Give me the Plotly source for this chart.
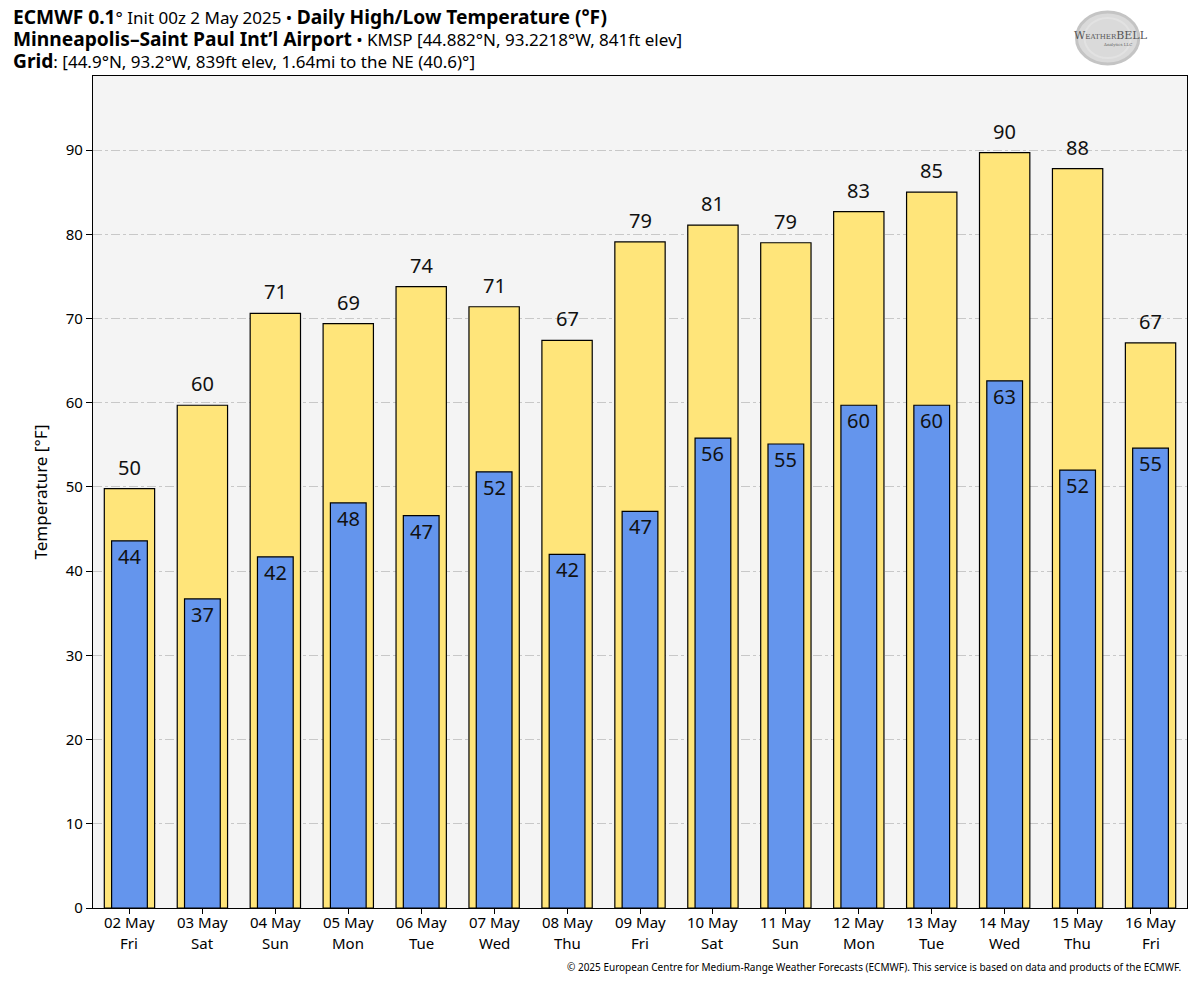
import plotly.graph_objects as go

dates = ["02 May", "03 May", "04 May", "05 May", "06 May", "07 May", "08 May", "09 May",
         "10 May", "11 May", "12 May", "13 May", "14 May", "15 May", "16 May"]
days = ["Fri", "Sat", "Sun", "Mon", "Tue", "Wed", "Thu", "Fri",
        "Sat", "Sun", "Mon", "Tue", "Wed", "Thu", "Fri"]
highs = [49.8, 59.7, 70.6, 69.4, 73.8, 71.4, 67.4, 79.1, 81.1, 79.0, 82.7, 85.0, 89.7, 87.8, 67.1]
lows = [43.6, 36.7, 41.7, 48.1, 46.6, 51.8, 42.0, 47.1, 55.8, 55.1, 59.7, 59.7, 62.6, 52.0, 54.6]
y_ticks = [0, 10, 20, 30, 40, 50, 60, 70, 80, 90]

FONT = "Noto Sans"
xs = list(range(len(dates)))

# target plot area in page pixels
PL, PR, PT, PB = 93, 1182, 76, 908


def px(x):
    return (x - PL) / (PR - PL)


def py(y):
    return (PB - y) / (PB - PT)


fig = go.Figure()
fig.add_trace(go.Bar(x=xs, y=highs, width=0.69,
                     marker=dict(color="#FFE57A", line=dict(color="black", width=1.2)),
                     hoverinfo="y", name="High"))
fig.add_trace(go.Bar(x=xs, y=lows, width=0.49,
                     marker=dict(color="#6495ED", line=dict(color="black", width=1.2)),
                     hoverinfo="y", name="Low"))

annotations = []
for x, h, l in zip(xs, highs, lows):
    annotations.append(dict(x=x, y=h, xref="x", yref="y", text=str(int(round(h))), showarrow=False,
                            yanchor="bottom", yshift=6, font=dict(family=FONT, size=20, color="#111")))
    annotations.append(dict(x=x, y=l, xref="x", yref="y", text=str(int(round(l))), showarrow=False,
                            yanchor="top", yshift=0, font=dict(family=FONT, size=20, color="#111")))

# x tick labels (two lines)
for x, d, w in zip(xs, dates, days):
    annotations.append(dict(x=x, y=py(922), xref="x", yref="paper", text=d, showarrow=False,
                            yanchor="middle", font=dict(family=FONT, size=15, color="black")))
    annotations.append(dict(x=x, y=py(943), xref="x", yref="paper", text=w, showarrow=False,
                            yanchor="middle", font=dict(family=FONT, size=15, color="black")))


def B(t):
    return f"<b><span style='font-size:19.2px'>{t}</span></b>"


title_lines = [
    (B("ECMWF 0.1") + "° Init 00z 2 May 2025 • " + B("Daily High/Low Temperature (°F)"), 16),
    (B("Minneapolis–Saint Paul Int’l Airport") + " • KMSP [44.882°N, 93.2218°W, 841ft elev]", 38),
    (B("Grid") + ": [44.9°N, 93.2°W, 839ft elev, 1.64mi to the NE (40.6)°]", 60),
]
for txt, ypx in title_lines:
    annotations.append(dict(x=px(11), y=py(ypx), xref="paper", yref="paper", text=txt,
                            showarrow=False, xanchor="left", yanchor="middle",
                            font=dict(family=FONT, size=17, color="black")))

annotations.append(dict(x=px(1178), y=py(967), xref="paper", yref="paper",
                        text="© 2025 European Centre for Medium-Range Weather Forecasts (ECMWF). This service is based on data and products of the ECMWF.",
                        showarrow=False, xanchor="right", yanchor="middle",
                        font=dict(family=FONT, size=10, color="black")))

# logo
annotations.append(dict(x=px(1106), y=py(36), xref="paper", yref="paper",
                        text="W<span style='font-size:7px'>EATHER</span>BELL", showarrow=False,
                        xanchor="center", yanchor="middle",
                        font=dict(family="DejaVu Serif", size=11, color="#555")))
annotations.append(dict(x=px(1113), y=py(45), xref="paper", yref="paper",
                        text="Analytics LLC", showarrow=False,
                        xanchor="center", yanchor="middle",
                        font=dict(family="DejaVu Serif", size=4, color="#666")))

shapes = [dict(type="circle", xref="paper", yref="paper",
               x0=px(1072), x1=px(1134), y0=py(64), y1=py(12),
               line=dict(color="#c4c4c4", width=3), fillcolor="rgba(205,205,205,0.75)", layer="below"),
          dict(type="circle", xref="paper", yref="paper",
               x0=px(1080), x1=px(1126), y0=py(58), y1=py(18),
               line=dict(color="#e2e2e2", width=2), fillcolor="rgba(0,0,0,0)", layer="below")]

fig.update_layout(
    width=1200, height=985,
    margin=dict(l=85, r=21, t=68, b=85),
    paper_bgcolor="white", plot_bgcolor="#F4F4F4",
    barmode="overlay", showlegend=False,
    font=dict(family=FONT, size=15, color="black"),
    annotations=annotations, shapes=shapes,
    xaxis=dict(range=[-0.5, 14.5], tickmode="array", tickvals=xs, ticktext=[""] * len(xs),
               showgrid=False, zeroline=False, ticks="outside", ticklen=5, tickcolor="black",
               showline=True, linecolor="black", mirror=True, linewidth=1.2),
    yaxis=dict(range=[0, 98.8], tickmode="array", tickvals=y_ticks,
               showgrid=True, gridcolor="#C8C8C8", griddash="dashdot", gridwidth=1,
               zeroline=False, ticks="outside", ticklen=6, tickcolor="black",
               showline=True, linecolor="black", mirror=True, linewidth=1.2,
               title=dict(text="Temperature [°F]", font=dict(family=FONT, size=17), standoff=13),
               tickfont=dict(family=FONT, size=15)),
)

fig.write_html("out.html")
